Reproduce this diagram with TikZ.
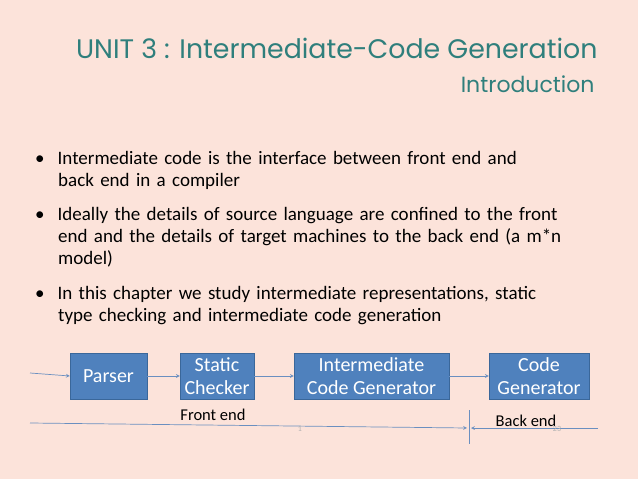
\documentclass[tikz,border=0pt]{standalone}
\usepackage{fontspec}
\setmainfont{Carlito}
\newfontfamily\titlefont{Poppins}
\definecolor{bg}{HTML}{FCE3DA}
\definecolor{teal}{HTML}{2F7F7C}
\definecolor{boxf}{HTML}{4F81BD}
\definecolor{boxd}{HTML}{3A679A}
\definecolor{ln}{HTML}{6A8FC0}
\begin{document}
\begin{tikzpicture}[x=1pt,y=-1pt,
 blk/.style={draw=boxd,fill=boxf,text=white,font=\fontsize{20}{23}\selectfont,align=center,inner sep=0pt,minimum height=46pt},
 bl/.style={anchor=north west,font=\fontsize{19}{22}\selectfont,align=left,text width=600pt,inner sep=0pt},
 conn/.style={draw=ln,line width=0.7pt,->,>=stealth}]
\fill[bg] (0,0) rectangle (638,479);
\node[text=teal,font=\titlefont\fontsize{26.8}{29}\selectfont,anchor=east] (t) at (601,48) {UNIT 3 : Intermediate-Code Generation};
\node[text=teal,font=\titlefont\fontsize{22}{24}\selectfont,anchor=east] (t2) at (598,84) {Introduction};
\node[bl] (b1) at (35,151) {\textbullet\hspace{13pt}Intermediate code is the interface between front end and\\\hspace*{23pt}back end in a compiler};
\node[bl] (b2) at (35,207) {\textbullet\hspace{13pt}Ideally the details of source language are confined to the front\\\hspace*{23pt}end and the details of target machines to the back end (a m*n\\\hspace*{23pt}model)};
\node[bl] (b3) at (35,286) {\textbullet\hspace{13pt}In this chapter we study intermediate representations, static\\\hspace*{23pt}type checking and intermediate code generation};
\node[blk,minimum width=77pt] (p) at (108.5,376) {Parser};
\node[blk,minimum width=74pt] (s) at (217,376) {Static\\Checker};
\node[blk,minimum width=155pt] (i) at (371.5,376) {Intermediate\\Code Generator};
\node[blk,minimum width=100pt] (c) at (539,376) {Code\\Generator};
\coordinate (in) at (30,373);
\draw[conn] (in) -- (p.west);
\draw[conn] (p.east) -- (s.west);
\draw[conn] (s.east) -- (i.west);
\draw[conn] (i.east) -- (c.west);
\coordinate (fa) at (30,423);
\coordinate (fb) at (467,428);
\coordinate (ba) at (598,428);
\coordinate (bb) at (471,428);
\coordinate (vt) at (469,410);
\coordinate (vb) at (469,444);
\draw[conn] (fa) -- (fb);
\draw[conn] (ba) -- (bb);
\draw[draw=ln,line width=0.7pt] (vt) -- (vb);
\node[font=\fontsize{16.5}{18}\selectfont] (fe) at (213,415) {Front end};
\node[font=\fontsize{16.5}{18}\selectfont] (be) at (526,421) {Back end};
\node[font=\fontsize{8}{9}\selectfont,text=gray!60] (n1) at (300,429) {1};
\node[font=\fontsize{8}{9}\selectfont,text=gray!60] (n2) at (557,429) {23};
\end{tikzpicture}
\end{document}
